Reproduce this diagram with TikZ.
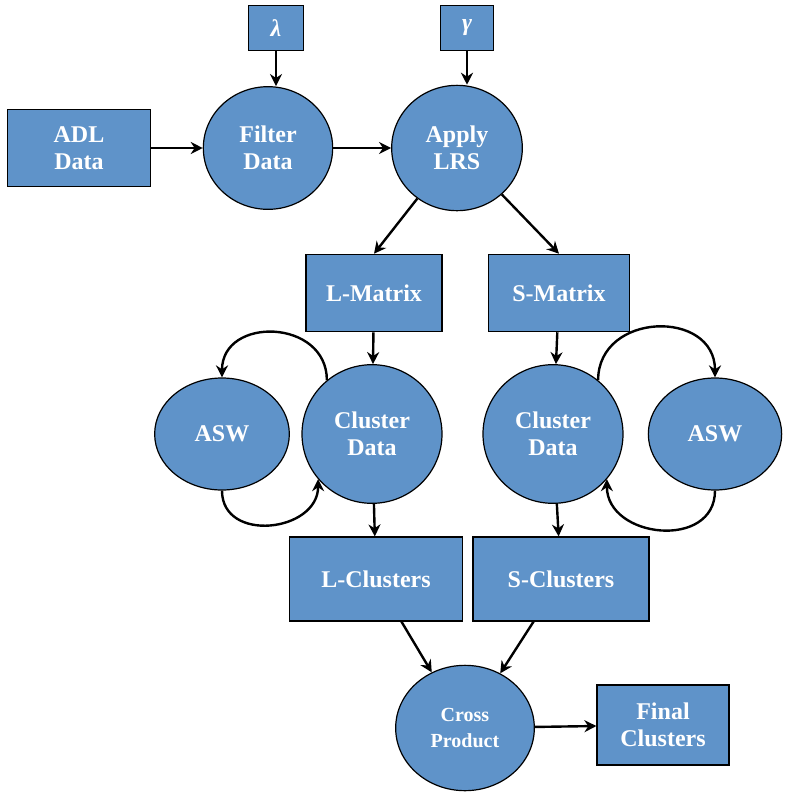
\documentclass[tikz,border=0pt]{standalone}
\usepackage{fontspec}
\setmainfont{Liberation Serif}
\usetikzlibrary{shapes.geometric,arrows.meta}
\begin{document}
\begin{tikzpicture}[x=0.75pt,y=-0.75pt,
  base/.style={fill=fillc,draw=black,line width=0.9pt,text=white,font=\bfseries\fontsize{18}{20}\selectfont,align=center,inner sep=0pt},
  ell/.style={base,ellipse},
  arr/.style={-{Stealth[length=9pt,width=9pt]},line width=1.8pt}]
\definecolor{fillc}{HTML}{5F93C9}
\useasboundingbox (0,0) rectangle (794,801);
\node[base,minimum width=41pt,minimum height=34pt,font=\bfseries\itshape\fontsize{18}{20}\selectfont] (lam) at (276,28) {λ};
\node[base,minimum width=40pt,minimum height=34pt,font=\bfseries\itshape\fontsize{18}{20}\selectfont] (gam) at (467,28) {γ};
\node[base,minimum width=107pt,minimum height=58pt] (adl) at (79,148) {ADL\\Data};
\node[ell,minimum width=97pt,minimum height=92pt] (filt) at (268,148) {Filter\\Data};
\node[ell,minimum width=98pt,minimum height=94pt] (lrs) at (457,148) {Apply\\LRS};
\node[base,minimum width=102pt,minimum height=58pt] (lm) at (374,293) {L-Matrix};
\node[base,minimum width=106pt,minimum height=58pt] (sm) at (559,293) {S-Matrix};
\node[ell,minimum width=101pt,minimum height=84pt] (aswl) at (222,434) {ASW};
\node[ell,minimum width=105pt,minimum height=104pt] (cdl) at (372,434) {Cluster\\Data};
\node[ell,minimum width=105pt,minimum height=104pt] (cdr) at (553,434) {Cluster\\Data};
\node[ell,minimum width=100pt,minimum height=84pt] (aswr) at (715,434) {ASW};
\node[base,minimum width=130pt,minimum height=63pt] (lc) at (376,579) {L-Clusters};
\node[base,minimum width=132pt,minimum height=63pt] (sc) at (561,579) {S-Clusters};
\node[ell,minimum width=104pt,minimum height=94pt,font=\bfseries\fontsize{15}{19}\selectfont] (cp) at (465,728) {Cross\\Product};
\node[base,minimum width=99pt,minimum height=60pt] (fc) at (663,725) {Final\\Clusters};
\draw[arr] (lam) -- (lam |- filt.north);
\draw[arr] (gam) -- (gam |- lrs.north);
\draw[arr] (adl) -- (filt);
\draw[arr] (filt) -- (lrs);
\draw[arr] (lrs) -- (lm.north);
\draw[arr] (lrs) -- (sm.north);
\draw[arr] (lm) -- (cdl);
\draw[arr] (sm) -- (cdr);
\draw[arr] (cdl) -- (lc);
\draw[arr] (cdr) -- (sc);
\draw[arr] (lc) -- (cp);
\draw[arr] (sc) -- (cp);
\draw[arr] (cp) -- (fc);
\draw[arr] (cdl.130) to[out=90,in=90,looseness=1.5] (aswl.north);
\draw[arr] (aswl.south) to[out=-90,in=-90,looseness=1.4] (cdl.220);
\draw[arr] (cdr.50) to[out=90,in=90,looseness=1.5] (aswr.north);
\draw[arr] (aswr.south) to[out=-90,in=-90,looseness=1.4] (cdr.-40);
\end{tikzpicture}
\end{document}
